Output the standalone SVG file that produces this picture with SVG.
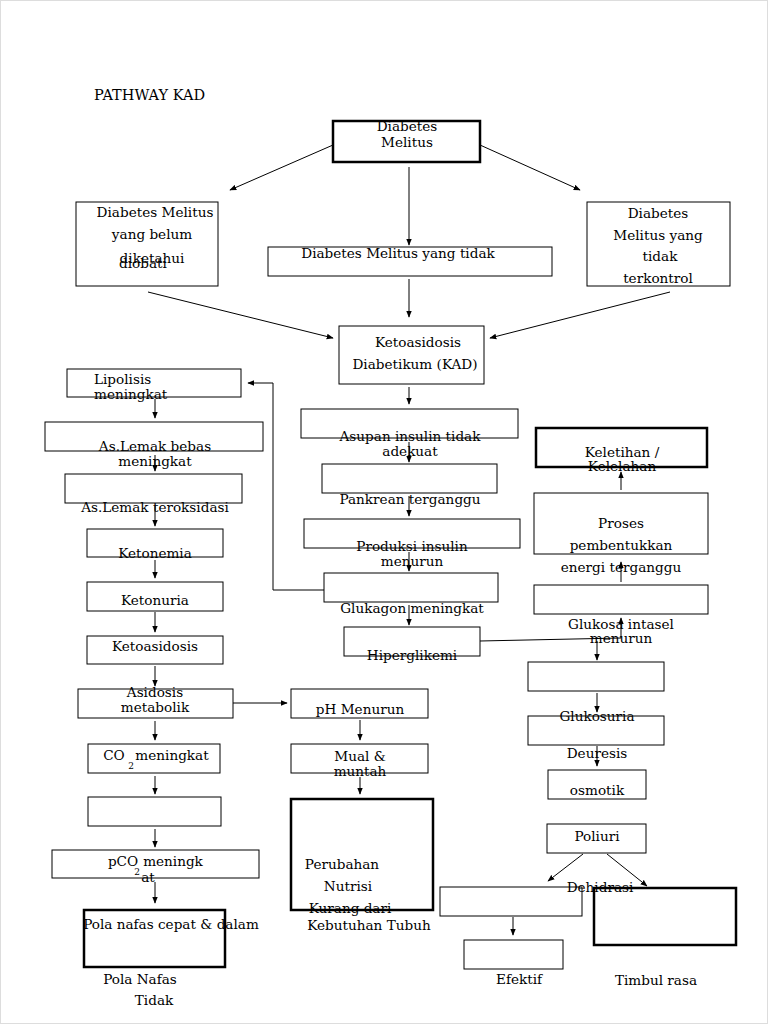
<svg xmlns="http://www.w3.org/2000/svg" width="768" height="1024" viewBox="0 0 768 1024">
<defs>
<marker id="a" viewBox="0 0 10 10" refX="9" refY="5" markerWidth="7" markerHeight="7" orient="auto"><path d="M0,1 L10,5 L0,9 z" fill="#000"/></marker>
</defs>
<style>
text{font-family:"DejaVu Serif","Liberation Serif",serif;font-size:13.6px;fill:#000;text-anchor:middle}
.l{text-anchor:start}
rect{fill:none;stroke:#000;stroke-width:1}
.t{stroke-width:2.5}
line,polyline{stroke:#000;stroke-width:1;fill:none}
.s{font-size:9px}
</style>
<rect x="0.5" y="0.5" width="767" height="1023" style="stroke:#ddd"/>
<text class="l" x="94" y="100" style="font-size:14.5px">PATHWAY KAD</text>
<g id="connectors">
<line x1="333" y1="145" x2="230" y2="190" marker-end="url(#a)"/>
<line x1="480" y1="145" x2="580" y2="190" marker-end="url(#a)"/>
<line x1="409" y1="167" x2="409" y2="245" marker-end="url(#a)"/>
<line x1="148" y1="292" x2="333" y2="338" marker-end="url(#a)"/>
<line x1="409" y1="279" x2="409" y2="317" marker-end="url(#a)"/>
<line x1="670" y1="292" x2="490" y2="338" marker-end="url(#a)"/>
<line x1="409" y1="387" x2="409" y2="404" marker-end="url(#a)"/>
<line x1="409" y1="442" x2="409" y2="462" marker-end="url(#a)"/>
<line x1="409" y1="496" x2="409" y2="516" marker-end="url(#a)"/>
<line x1="409" y1="552" x2="409" y2="571" marker-end="url(#a)"/>
<line x1="409" y1="605" x2="409" y2="625" marker-end="url(#a)"/>
<polyline points="324,590 273,590 273,383 248,383" marker-end="url(#a)"/>
<line x1="155" y1="399" x2="155" y2="418" marker-end="url(#a)"/>
<line x1="155" y1="455" x2="155" y2="471" marker-end="url(#a)"/>
<line x1="155" y1="506" x2="155" y2="526" marker-end="url(#a)"/>
<line x1="155" y1="560" x2="155" y2="578" marker-end="url(#a)"/>
<line x1="155" y1="612" x2="155" y2="632" marker-end="url(#a)"/>
<line x1="155" y1="666" x2="155" y2="686" marker-end="url(#a)"/>
<line x1="233" y1="703" x2="287" y2="703" marker-end="url(#a)"/>
<line x1="155" y1="721" x2="155" y2="740" marker-end="url(#a)"/>
<line x1="155" y1="776" x2="155" y2="794" marker-end="url(#a)"/>
<line x1="155" y1="829" x2="155" y2="847" marker-end="url(#a)"/>
<line x1="155" y1="882" x2="155" y2="903" marker-end="url(#a)"/>
<line x1="360" y1="720" x2="360" y2="740" marker-end="url(#a)"/>
<line x1="360" y1="777" x2="360" y2="794" marker-end="url(#a)"/>
<line x1="621" y1="490" x2="621" y2="472" marker-end="url(#a)"/>
<line x1="621" y1="582" x2="621" y2="562" marker-end="url(#a)"/>
<line x1="480" y1="641" x2="621" y2="638"/>
<line x1="621" y1="638" x2="621" y2="618" marker-end="url(#a)"/>
<line x1="597" y1="641" x2="597" y2="660" marker-end="url(#a)"/>
<line x1="597" y1="693" x2="597" y2="712" marker-end="url(#a)"/>
<line x1="597" y1="746" x2="597" y2="766" marker-end="url(#a)"/>
<line x1="583" y1="854" x2="548" y2="881" marker-end="url(#a)"/>
<line x1="607" y1="854" x2="647" y2="886" marker-end="url(#a)"/>
<line x1="513" y1="917" x2="513" y2="935" marker-end="url(#a)"/>
</g>
<g id="dm"><rect class="t" x="333" y="121" width="147" height="41"/><text x="407" y="131">Diabetes</text><text x="407" y="147">Melitus</text></g>
<g id="dm1"><rect x="76" y="202" width="142" height="84"/><text x="155" y="217">Diabetes Melitus</text><text x="152" y="239">yang belum</text><text x="152" y="263">diketahui</text><text x="143" y="268">diobati</text></g>
<g id="dm2"><rect x="268" y="247" width="284" height="29"/><text x="398" y="258">Diabetes Melitus yang tidak</text></g>
<g id="dm3"><rect x="587" y="202" width="143" height="84"/><text x="658" y="218">Diabetes</text><text x="658" y="240">Melitus yang</text><text x="660" y="261">tidak</text><text x="658" y="283">terkontrol</text></g>
<g id="kad"><rect x="339" y="326" width="145" height="58"/><text x="418" y="347">Ketoasidosis</text><text x="415" y="369">Diabetikum (KAD)</text></g>
<g id="asupan"><rect x="301" y="409" width="217" height="29"/><text x="410" y="441">Asupan insulin tidak</text><text x="410" y="456">adekuat</text></g>
<g id="pankrean"><rect x="322" y="464" width="175" height="29"/><text x="410" y="504">Pankrean terganggu</text></g>
<g id="produksi"><rect x="304" y="519" width="216" height="29"/><text x="412" y="551">Produksi insulin</text><text x="412" y="566">menurun</text></g>
<g id="glukagon"><rect x="324" y="573" width="174" height="29"/><text x="412" y="613">Glukagon meningkat</text></g>
<g id="hiper"><rect x="344" y="627" width="136" height="29"/><text x="412" y="660">Hiperglikemi</text></g>
<g id="lipo"><rect x="67" y="369" width="174" height="28"/><text class="l" x="94" y="384">Lipolisis</text><text class="l" x="94" y="399">meningkat</text></g>
<g id="lemak"><rect x="45" y="422" width="218" height="29"/><text x="155" y="451">As.Lemak bebas</text><text x="155" y="466">meningkat</text></g>
<g id="oksid"><rect x="65" y="474" width="177" height="29"/><text x="155" y="512">As.Lemak teroksidasi</text></g>
<g id="ketonemia"><rect x="87" y="529" width="136" height="28"/><text x="155" y="558">Ketonemia</text></g>
<g id="ketonuria"><rect x="87" y="582" width="136" height="29"/><text x="155" y="605">Ketonuria</text></g>
<g id="ketoasid"><rect x="87" y="636" width="136" height="28"/><text x="155" y="651">Ketoasidosis</text></g>
<g id="asidosis"><rect x="78" y="689" width="155" height="29"/><text x="155" y="697">Asidosis</text><text x="155" y="712">metabolik</text></g>
<g id="co2"><rect x="88" y="744" width="132" height="29"/><text x="114" y="760">CO</text><text class="s" x="131" y="769">2</text><text x="172" y="760">meningkat</text></g>
<g id="empty1"><rect x="88" y="797" width="133" height="29"/></g>
<g id="pco2"><rect x="52" y="850" width="207" height="28"/><text x="123" y="866">pCO</text><text x="173" y="866">meningk</text><text class="s" x="137" y="875">2</text><text x="148" y="882">at</text></g>
<g id="pola"><rect class="t" x="84" y="910" width="141" height="57"/><text x="171" y="929">Pola nafas cepat &amp; dalam</text><text x="140" y="984">Pola Nafas</text><text x="154" y="1005">Tidak</text></g>
<g id="ph"><rect x="291" y="689" width="137" height="29"/><text x="360" y="714">pH Menurun</text></g>
<g id="mual"><rect x="291" y="744" width="137" height="29"/><text x="360" y="761">Mual &amp;</text><text x="360" y="776">muntah</text></g>
<g id="nutrisi"><rect class="t" x="291" y="799" width="142" height="111"/><text x="342" y="869">Perubahan</text><text x="348" y="891">Nutrisi</text><text x="350" y="913">Kurang dari</text><text x="369" y="930">Kebutuhan Tubuh</text></g>
<g id="keletihan"><rect class="t" x="536" y="428" width="171" height="39"/><text x="622" y="457">Keletihan /</text><text x="622" y="471">Kelelahan</text></g>
<g id="proses"><rect x="534" y="493" width="174" height="61"/><text x="621" y="528">Proses</text><text x="621" y="550">pembentukkan</text><text x="621" y="572">energi terganggu</text></g>
<g id="glukosa"><rect x="534" y="585" width="174" height="29"/><text x="621" y="629">Glukosa intasel</text><text x="621" y="643">menurun</text></g>
<g id="empty2"><rect x="528" y="662" width="136" height="29"/></g>
<g id="glukosuria"><rect x="528" y="716" width="136" height="29"/><text x="597" y="721">Glukosuria</text><text x="597" y="758">Deuresis</text></g>
<g id="osmotik"><rect x="548" y="770" width="98" height="29"/><text x="597" y="795">osmotik</text></g>
<g id="poliuri"><rect x="547" y="824" width="99" height="29"/><text x="597" y="841">Poliuri</text><text x="600" y="892">Dehidrasi</text></g>
<g id="empty3"><rect x="440" y="887" width="142" height="29"/></g>
<g id="efektif"><rect x="464" y="940" width="99" height="29"/><text x="519" y="984">Efektif</text></g>
<g id="timbul"><rect class="t" x="594" y="888" width="142" height="57"/><text x="656" y="985">Timbul rasa</text></g>
</svg>
